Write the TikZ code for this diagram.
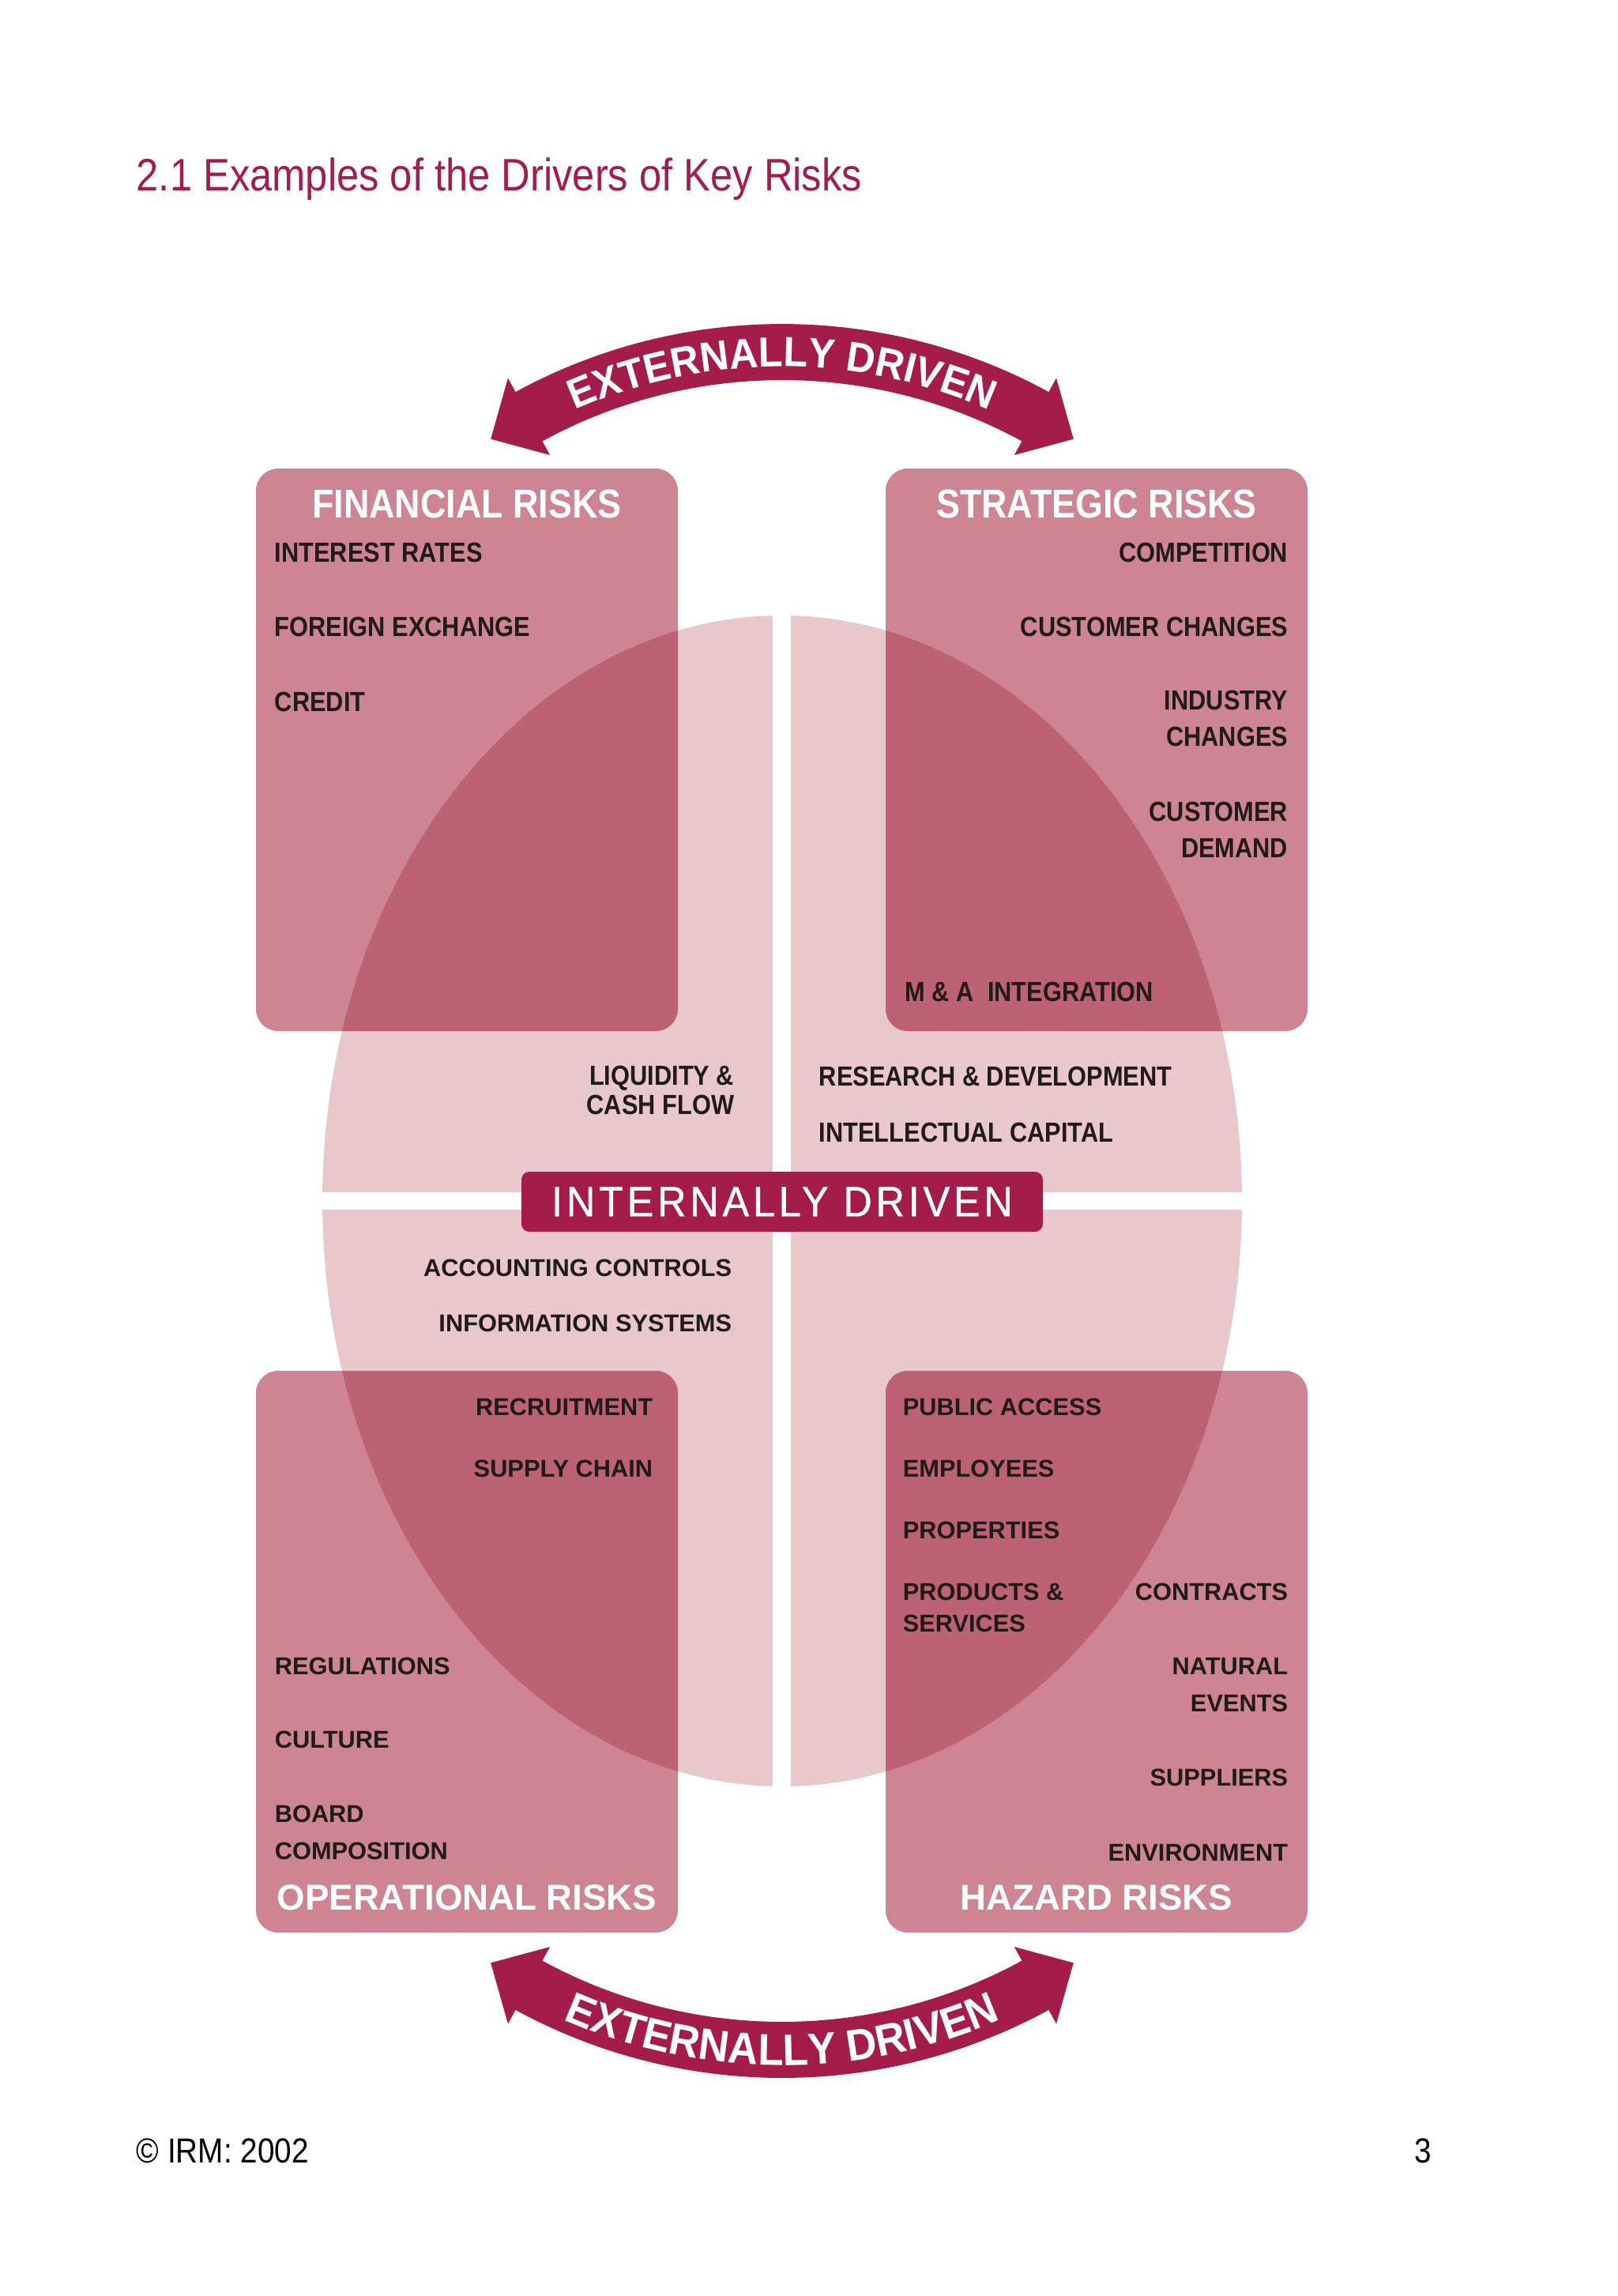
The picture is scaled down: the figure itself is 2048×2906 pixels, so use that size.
\documentclass[tikz,border=0pt]{standalone}
\usepackage{fontspec}
\setmainfont{Liberation Sans}
\newfontfamily\cnd[FakeStretch=0.88]{Liberation Sans}
\newfontfamily\ttlf[FakeStretch=0.88]{Liberation Sans}
\newfontfamily\spcf[FakeStretch=0.94,LetterSpace=9,FakeBold=0.8]{Liberation Sans}
\newfontfamily\arcf[FakeStretch=0.95]{Liberation Sans}
\usetikzlibrary{decorations.text}
\definecolor{crim}{RGB}{164,28,74}
\definecolor{boxpink}{RGB}{206,133,147}
\definecolor{ovl}{RGB}{189,98,114}
\definecolor{elpink}{RGB}{233,200,205}
\definecolor{ink}{RGB}{32,26,26}
\newcommand\arcfontA{\arcf\bfseries\fontsize{13.25}{14}\selectfont}
\newcommand\arcfontB{\arcf\bfseries\fontsize{14}{15}\selectfont}
\begin{document}
\begin{tikzpicture}[x=0.25pt,y=0.25pt,
  itemC/.style={inner sep=0pt, text=ink, font=\cnd\bfseries\fontsize{8.75}{11.5}\selectfont},
  itemW/.style={inner sep=0pt, text=ink, font=\bfseries\fontsize{7.7}{11.75}\selectfont},
  titleC/.style={inner sep=0pt, text=white, font=\cnd\bfseries\fontsize{12.75}{14}\selectfont},
  titleW/.style={inner sep=0pt, text=white, font=\bfseries\fontsize{11.4}{13}\selectfont},
  riskbox/.style={fill=boxpink, rounded corners=7pt},
  overlap/.style={fill=ovl, rounded corners=7pt},
  arrowband/.style={fill=crim}]
\useasboundingbox (0,0) rectangle (2048,-2906);
\fill[white] (0,0) rectangle (2048,-2906);

% page title
\node[inner sep=0pt, anchor=base west, text=crim, font=\ttlf\fontsize{14.4}{16}\selectfont] (title) at (172,-241) {2.1 Examples of the Drivers of Key Risks};

% ellipse (internal drivers)
\fill[elpink] (990,-1520) ellipse [x radius=582, y radius=741];

% risk boxes
\path[riskbox] (324,-593) rectangle (858,-1305);
\path[riskbox] (1121,-593) rectangle (1655,-1305);
\path[riskbox] (324,-1735) rectangle (858,-2446);
\path[riskbox] (1121,-1735) rectangle (1655,-2446);
\begin{scope}
  \clip (990,-1520) ellipse [x radius=582, y radius=741];
  \path[overlap] (324,-593) rectangle (858,-1305);
  \path[overlap] (1121,-593) rectangle (1655,-1305);
  \path[overlap] (324,-1735) rectangle (858,-2446);
  \path[overlap] (1121,-1735) rectangle (1655,-2446);
\end{scope}

% white cross through the ellipse
\fill[white] (978,-760) rectangle (1001,-2280);
\fill[white] (400,-1509) rectangle (1580,-1531);

% internally driven label
\node[fill=crim, rounded corners=2.5pt, minimum width=165pt, minimum height=19pt, inner sep=0pt,
  text=white, font=\spcf\fontsize{13.4}{14}\selectfont] (intd) at (990,-1521) {INTERNALLY DRIVEN};

% top arrow
\begin{scope}[shift={(990,-1115)}]
  \path[arrowband] (118.6:705) arc[start angle=118.6, end angle=61.4, radius=705]
    -- (61.4:725) -- (56.6:670) -- (61.4:614) -- (61.4:634)
    arc[start angle=61.4, end angle=118.6, radius=634]
    -- (118.6:614) -- (123.4:670) -- (118.6:725) -- cycle;
  \path[decorate, decoration={text along path, text={|\arcfontA|EXTERNALLY DRIVEN}, text align=center, text color=white}]
    (114:651) arc[start angle=114, end angle=66, radius=651];
\end{scope}

% bottom arrow
\begin{scope}[shift={(990,-1925)}]
  \path[arrowband] (-118.6:705) arc[start angle=-118.6, end angle=-61.4, radius=705]
    -- (-61.4:725) -- (-56.6:670) -- (-61.4:614) -- (-61.4:634)
    arc[start angle=-61.4, end angle=-118.6, radius=634]
    -- (-118.6:614) -- (-123.4:670) -- (-118.6:725) -- cycle;
  \path[decorate, decoration={text along path, text={|\arcfontB|EXTERNALLY DRIVEN}, text align=center, text color=white}]
    (-114:689) arc[start angle=-114, end angle=-66, radius=689];
\end{scope}

% box titles
\node[titleC] (fin) at (591,-638) {FINANCIAL RISKS};
\node[titleC] (str) at (1388,-638) {STRATEGIC RISKS};
\node[titleW] (ope) at (591,-2402) {OPERATIONAL RISKS};
\node[titleW] (haz) at (1388,-2402) {HAZARD RISKS};

% financial
\node[itemC, anchor=west] (f1) at (347,-699) {INTEREST RATES};
\node[itemC, anchor=west] (f2) at (347,-793) {FOREIGN EXCHANGE};
\node[itemC, anchor=west] (f3) at (347,-888) {CREDIT};

% strategic
\node[itemC, anchor=east] (s1) at (1631,-699) {COMPETITION};
\node[itemC, anchor=east] (s2) at (1631,-793) {CUSTOMER CHANGES};
\node[itemC, anchor=east, align=right] (s3) at (1631,-909) {INDUSTRY\\CHANGES};
\node[itemC, anchor=east, align=right] (s4) at (1631,-1050) {CUSTOMER\\DEMAND};
\node[itemC, anchor=west] (s5) at (1145,-1255) {M \& A\ \ INTEGRATION};

% internal (upper)
\node[itemC, anchor=east, align=right, font=\cnd\bfseries\fontsize{8.75}{9.4}\selectfont] (i1) at (930,-1380) {LIQUIDITY \&\\CASH FLOW};
\node[itemC, anchor=west] (i2) at (1036,-1362) {RESEARCH \& DEVELOPMENT};
\node[itemC, anchor=west] (i3) at (1036,-1433) {INTELLECTUAL CAPITAL};

% internal (lower)
\node[itemW, anchor=east] (i4) at (927,-1605) {ACCOUNTING CONTROLS};
\node[itemW, anchor=east] (i5) at (927,-1675) {INFORMATION SYSTEMS};

% operational
\node[itemW, anchor=east] (o1) at (827,-1781) {RECRUITMENT};
\node[itemW, anchor=east] (o2) at (827,-1859) {SUPPLY CHAIN};
\node[itemW, anchor=west] (o3) at (347,-2109) {REGULATIONS};
\node[itemW, anchor=west] (o4) at (347,-2202) {CULTURE};
\node[itemW, anchor=west, align=left] (o5) at (347,-2319.5) {BOARD\\COMPOSITION};

% hazard
\node[itemW, anchor=west] (h1) at (1142,-1781) {PUBLIC ACCESS};
\node[itemW, anchor=west] (h2) at (1142,-1859) {EMPLOYEES};
\node[itemW, anchor=west] (h3) at (1142,-1937) {PROPERTIES};
\node[itemW, anchor=west, align=left, font=\bfseries\fontsize{7.7}{10}\selectfont] (h4) at (1142,-2035) {PRODUCTS \&\\SERVICES};
\node[itemW, anchor=east] (h5) at (1631,-2015) {CONTRACTS};
\node[itemW, anchor=east, align=right] (h6) at (1631,-2132.5) {NATURAL\\EVENTS};
\node[itemW, anchor=east] (h7) at (1631,-2250) {SUPPLIERS};
\node[itemW, anchor=east] (h8) at (1631,-2345) {ENVIRONMENT};

% footer
\node[inner sep=0pt, anchor=base west, text=black, font=\ttlf\fontsize{11}{13}\selectfont] (foot) at (172,-2737) {\textcopyright\ IRM: 2002};
\node[inner sep=0pt, anchor=base east, text=black, font=\ttlf\fontsize{11}{13}\selectfont] (page) at (1813,-2737) {3};
\end{tikzpicture}
\end{document}
